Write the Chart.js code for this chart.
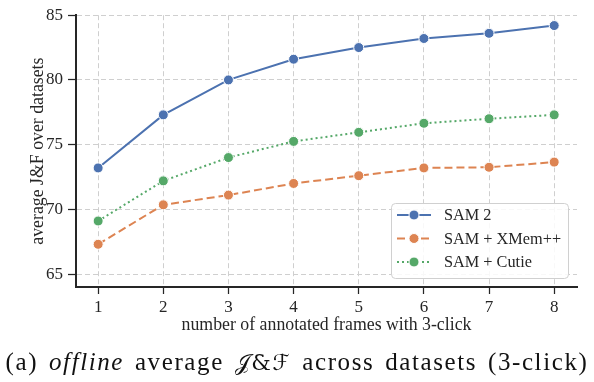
<!DOCTYPE html>
<html><head><meta charset="utf-8">
<script src="https://cdn.jsdelivr.net/npm/chart.js@4"></script>
<style>
html,body{margin:0;padding:0;background:#fff;}
#wrap{position:relative;width:594px;height:382px;}
#caption{position:absolute;left:0;top:348px;width:594px;text-align:center;white-space:nowrap;
 font-family:"Liberation Serif",serif;font-size:25px;color:#111;letter-spacing:1.6px;word-spacing:3px;}
</style></head>
<body>
<div id="wrap"><canvas id="c" width="594" height="382"></canvas>
<div id="caption">(a) <i>offline</i> average <span style="font-family:'DejaVu Serif','DejaVu Sans',serif;font-size:22px">𝒥&amp;ℱ</span> across datasets (3-click)</div></div>
<script>
const frames = [1, 2, 3, 4, 5, 6, 7, 8];
const sam2 = [73.2, 77.3, 80.0, 81.6, 82.5, 83.2, 83.6, 84.2];
const samXMem = [67.3, 70.35, 71.1, 72.0, 72.6, 73.2, 73.25, 73.65];
const samCutie = [69.1, 72.2, 74.0, 75.25, 75.95, 76.65, 77.0, 77.3];
const yTicks = [65, 70, 75, 80, 85];
const seriesNames = ['SAM 2', 'SAM + XMem++', 'SAM + Cutie'];

const FONT = '"Liberation Serif", serif';
const colors = ['#4C72B0', '#DD8452', '#55A868'];
const dashes = [[], [8, 4], [2, 3]];
const seriesData = [sam2, samXMem, samCutie];

const datasets = seriesData.map((vals, i) => ({
  label: seriesNames[i],
  data: vals.map((v, j) => ({x: frames[j], y: v})),
  borderColor: colors[i],
  backgroundColor: colors[i],
  borderWidth: 2,
  borderDash: dashes[i],
  pointRadius: 5,
  pointBorderColor: '#ffffff',
  pointBorderWidth: 1,
  pointBackgroundColor: colors[i],
  tension: 0,
  fill: false
}));

const legendPlugin = {
  id: 'lineLegend',
  afterDraw(chart) {
    const ctx = chart.ctx;
    const x0 = 391, y0 = 203, w = 177, h = 75, r = 4;
    ctx.save();
    ctx.beginPath();
    ctx.roundRect(x0 + 0.5, y0 + 0.5, w, h, r);
    ctx.fillStyle = 'rgba(255,255,255,0.85)';
    ctx.fill();
    ctx.strokeStyle = '#d0d0d0';
    ctx.lineWidth = 1;
    ctx.stroke();
    chart.data.datasets.forEach((ds, i) => {
      const y = y0 + 12 + i * 23.5;
      ctx.beginPath();
      ctx.setLineDash(ds.borderDash);
      ctx.strokeStyle = ds.borderColor;
      ctx.lineWidth = 2;
      ctx.moveTo(397, y);
      ctx.lineTo(431, y);
      ctx.stroke();
      ctx.setLineDash([]);
      ctx.beginPath();
      ctx.arc(414, y, 5, 0, Math.PI * 2);
      ctx.fillStyle = ds.pointBackgroundColor;
      ctx.fill();
      ctx.strokeStyle = '#fff';
      ctx.lineWidth = 1;
      ctx.stroke();
      ctx.fillStyle = '#262626';
      ctx.font = '16.3px ' + FONT;
      ctx.textBaseline = 'middle';
      ctx.textAlign = 'left';
      ctx.fillText(ds.label, 444, y + 1);
    });
    ctx.restore();
  }
};

new Chart(document.getElementById('c'), {
  type: 'line',
  data: { datasets },
  plugins: [legendPlugin],
  options: {
    responsive: false,
    animation: false,
    devicePixelRatio: 1,
    layout: { padding: { left: 0, right: 17, top: 10, bottom: 45 } },
    plugins: { legend: { display: false }, tooltip: { enabled: false } },
    scales: {
      x: {
        type: 'linear',
        min: 0.66,
        max: 8.35,
        afterBuildTicks: s => { s.ticks = frames.map(v => ({value: v})); },
        afterFit: s => { s.height = 50; },
        ticks: { font: { family: FONT, size: 17 }, color: '#262626', padding: 3, maxRotation: 0, autoSkip: false },
        grid: { color: '#cfcfcf', lineWidth: 1, tickLength: 7, tickColor: '#262626', tickWidth: 1.25, tickBorderDash: [] },
        border: { display: true, color: '#262626', width: 2, dash: [5, 3] },
        title: { display: true, text: 'number of annotated frames with 3-click', font: { family: FONT, size: 17.8 }, color: '#262626', padding: { top: 0, bottom: 1 } }
      },
      y: {
        type: 'linear',
        min: 64,
        max: 85,
        afterBuildTicks: s => { s.ticks = yTicks.map(v => ({value: v})); },
        afterFit: s => { s.width = 76; },
        ticks: { font: { family: FONT, size: 17 }, color: '#262626', padding: 5 },
        grid: { color: '#cfcfcf', lineWidth: 1, tickLength: 8, tickColor: '#262626', tickWidth: 1.25, tickBorderDash: [] },
        border: { display: true, color: '#262626', width: 2, dash: [5, 3] },
        title: { display: true, text: 'average J&F over datasets', font: { family: FONT, size: 17.8 }, color: '#262626', padding: { top: 28, bottom: 0 } }
      }
    }
  }
});
</script>
</body></html>
